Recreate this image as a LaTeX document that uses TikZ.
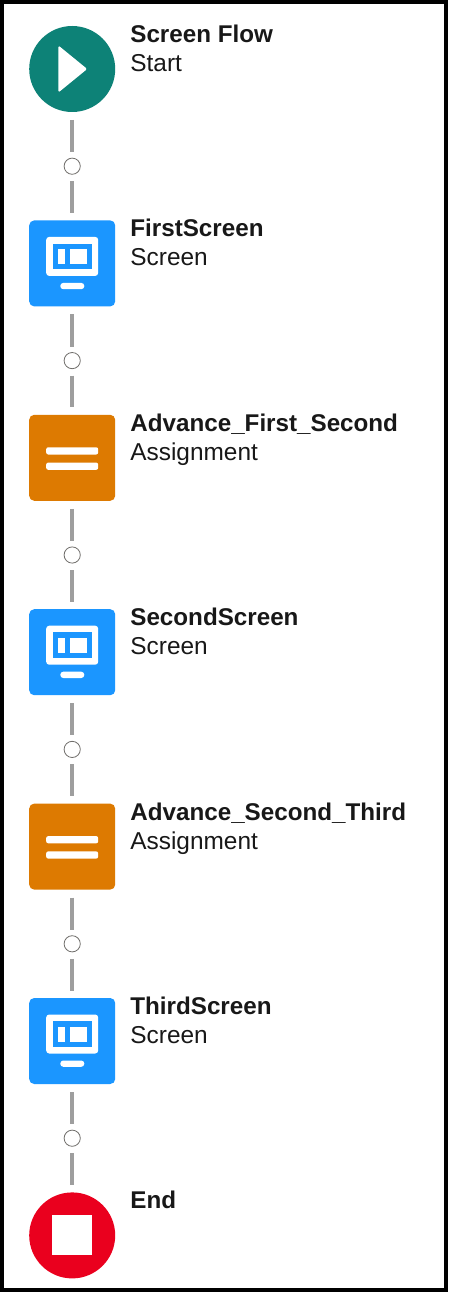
\documentclass[tikz,border=0pt]{standalone}
\usepackage{fontspec}
\setmainfont{Liberation Sans}
\usepackage{xcolor}
\usetikzlibrary{calc,positioning}
\definecolor{startteal}{RGB}{13,130,119}
\definecolor{screenblue}{RGB}{27,150,255}
\definecolor{assignorange}{RGB}{221,122,1}
\definecolor{endred}{RGB}{234,0,30}
\definecolor{linkgrey}{RGB}{158,158,158}
\definecolor{jointgrey}{RGB}{112,110,107}
\definecolor{textblack}{RGB}{24,24,24}
\tikzset{
  x=1pt,y=1pt,
  roundicon/.style={circle,minimum size=86pt,inner sep=0pt,outer sep=0pt},
  squareicon/.style={rectangle,rounded corners=5pt,minimum size=86pt,inner sep=0pt,outer sep=0pt},
  joint/.style={circle,draw=jointgrey,line width=0.8pt,fill=white,minimum size=16.2pt,inner sep=0pt,outer sep=0pt},
  linkin/.style={line width=3.6pt,draw=linkgrey,shorten <=8pt,shorten >=5.9pt},
  linkout/.style={line width=3.6pt,draw=linkgrey,shorten <=6.9pt,shorten >=7.5pt},
  titlelabel/.style={anchor=base west,inner sep=0pt,text=textblack,font=\fontsize{24.2}{29}\selectfont\bfseries},
  sublabel/.style={anchor=base west,inner sep=0pt,text=textblack,font=\fontsize{24.4}{29}\selectfont},
  pics/playglyph/.style={code={
    \fill[white,rounded corners=1.5pt] (-13.8,23.5) -- (15,0) -- (-13.8,-23.5) -- cycle;
  }},
  pics/screenglyph/.style={code={
    \fill[white,rounded corners=3pt] (-26,26.5) rectangle (26,-12.5);
    \fill[screenblue] (-19,19.8) rectangle (19.6,-5.5);
    \fill[white] (-14.5,14.2) rectangle (-7.2,-0.8);
    \fill[white] (-2.2,14.2) rectangle (15.1,-0.8);
    \fill[white,rounded corners=3pt] (-11.9,-19.5) rectangle (12.1,-25.8);
  }},
  pics/assignglyph/.style={code={
    \fill[white,rounded corners=2pt] (-26,10.5) rectangle (26,3.3);
    \fill[white,rounded corners=2pt] (-26,-4.8) rectangle (26,-12);
  }},
  pics/stopglyph/.style={code={
    \fill[white] (-20,20) rectangle (20,-20);
  }}
}
\begin{document}
\begin{tikzpicture}[node distance=46.1pt]
  \useasboundingbox (0,0) rectangle (448,-1292);
  \fill[black] (0,0) rectangle (448,-1292);
  \fill[white] (4,-4) rectangle (444,-1288);
  % icons and joints, top to bottom
  \node[roundicon,fill=startteal] (start) at (72.2,-69) {};
  \node[joint,below=of start] (j1) {};
  \node[squareicon,fill=screenblue,below=of j1] (first) {};
  \node[joint,below=of first] (j2) {};
  \node[squareicon,fill=assignorange,below=of j2] (advone) {};
  \node[joint,below=of advone] (j3) {};
  \node[squareicon,fill=screenblue,below=of j3] (second) {};
  \node[joint,below=of second] (j4) {};
  \node[squareicon,fill=assignorange,below=of j4] (advtwo) {};
  \node[joint,below=of advtwo] (j5) {};
  \node[squareicon,fill=screenblue,below=of j5] (third) {};
  \node[joint,below=of third] (j6) {};
  \node[roundicon,fill=endred,below=of j6] (stop) {};
  % glyphs
  \pic at (start) {playglyph};
  \pic at (first) {screenglyph};
  \pic at (advone) {assignglyph};
  \pic at (second) {screenglyph};
  \pic at (advtwo) {assignglyph};
  \pic at (third) {screenglyph};
  \pic at (stop) {stopglyph};
  % connectors
  \draw[linkin] (start) -- (j1);
  \draw[linkout] (j1) -- (first);
  \draw[linkin] (first) -- (j2);
  \draw[linkout] (j2) -- (advone);
  \draw[linkin] (advone) -- (j3);
  \draw[linkout] (j3) -- (second);
  \draw[linkin] (second) -- (j4);
  \draw[linkout] (j4) -- (advtwo);
  \draw[linkin] (advtwo) -- (j5);
  \draw[linkout] (j5) -- (third);
  \draw[linkin] (third) -- (j6);
  \draw[linkout] (j6) -- (stop);
  % labels
  \node[titlelabel] (t1) at ($(start.north)+(58,-16.5)$) {Screen Flow};
  \node[sublabel] (s1) at ($(t1.base west)+(0,-29)$) {Start};
  \node[titlelabel] (t2) at ($(first.north)+(58,-16.5)$) {FirstScreen};
  \node[sublabel] (s2) at ($(t2.base west)+(0,-29)$) {Screen};
  \node[titlelabel] (t3) at ($(advone.north)+(58,-16.5)$) {Advance\_First\_Second};
  \node[sublabel] (s3) at ($(t3.base west)+(0,-29)$) {Assignment};
  \node[titlelabel] (t4) at ($(second.north)+(58,-16.5)$) {SecondScreen};
  \node[sublabel] (s4) at ($(t4.base west)+(0,-29)$) {Screen};
  \node[titlelabel] (t5) at ($(advtwo.north)+(58,-16.5)$) {Advance\_Second\_Third};
  \node[sublabel] (s5) at ($(t5.base west)+(0,-29)$) {Assignment};
  \node[titlelabel] (t6) at ($(third.north)+(58,-16.5)$) {ThirdScreen};
  \node[sublabel] (s6) at ($(t6.base west)+(0,-29)$) {Screen};
  \node[titlelabel] (t7) at ($(stop.north)+(58,-16.5)$) {End};
\end{tikzpicture}
\end{document}
